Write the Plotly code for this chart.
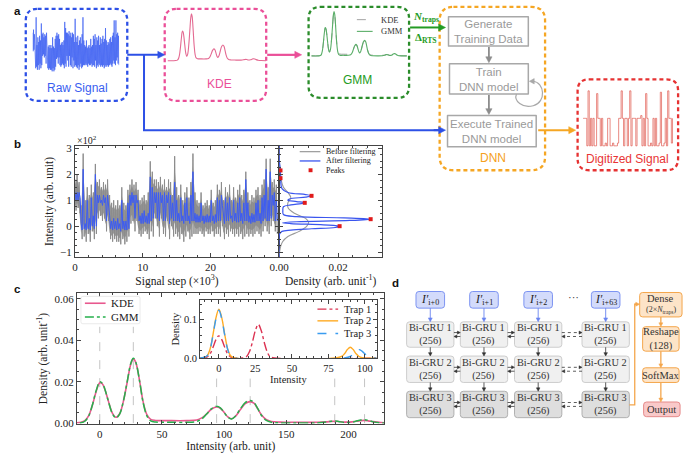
import re
import math
import numpy as np
import plotly.graph_objects as go

W, H = 685, 453
SERIF = "Liberation Serif"
SANS = "Liberation Sans"

# ---------------- data ----------------
# panel b: envelopes of raw (before filtering) and filtered signal, sampled every 0.3 x10^3 steps
step_size = 0.3
gray_hi = [
    1.8, 2.0, 1.7, 0.8, 2.8, 1.0, 1.5, 1.2, 1.6, 1.3,
    2.4, 1.7, 1.8, 1.5, 1.7, 1.6, 1.8, 1.2, 0.9, 1.0,
    0.8, 1.0, 0.8, 1.5, 0.9, 0.8, 1.4, 1.6, 1.8, 1.6,
    1.7, 1.4, 1.0, 1.1, 1.2, 1.0, 1.3, 2.5, 2.1, 1.8,
    1.8, 1.7, 1.9, 1.6, 1.8, 1.5, 1.8, 1.7, 1.2, 2.7,
    1.5, 1.2, 1.6, 1.0, 1.3, 1.5, 1.1, 1.7, 2.8, 1.3,
    1.0, 0.9, 1.3, 0.8, 0.9, 1.0, 0.8, 1.4, 0.9, 1.0,
    1.6, 1.4, 1.7, 1.0, 1.5, 1.3, 1.6, 1.0, 1.5, 1.1,
    1.4, 1.6, 1.2, 1.4, 2.1, 1.3, 1.0, 1.2, 1.1, 1.4,
    1.5, 1.2, 1.6, 1.8, 2.6, 1.5, 2.6, 1.7, 1.8, 1.6]
gray_lo = [
    0.6, 0.7, 0.5, -0.5, -0.4, -0.6, -0.3, -0.6, -0.2, -0.5,
    -0.3, 0.3, 0.4, 0.2, 0.3, -0.2, 0.2, -0.5, -0.6, -0.5,
    -0.6, -0.6, -0.7, -0.5, -0.7, -0.6, -0.4, 0.1, 0.2, -0.2,
    0.2, -0.3, -0.4, -0.3, -0.2, -0.3, -0.5, -0.2, -0.4, 0.3,
    0.0, -0.4, 0.3, -0.3, -0.4, 0.2, -0.5, 0.0, -0.4, -0.3,
    -0.4, -0.5, -0.3, -0.6, -0.4, -0.2, -0.5, -0.4, -0.3, -0.3,
    -0.3, -0.2, -0.3, -0.4, -0.2, -0.3, -0.3, -0.2, -0.4, -0.3,
    -0.3, -0.4, 0.0, -0.5, -0.3, -0.4, -0.2, -0.3, -0.4, -0.3,
    -0.4, -0.3, -0.5, -0.4, -0.3, -0.4, -0.3, -0.4, -0.3, -0.2,
    -0.3, -0.4, -0.2, 0.0, -0.2, -0.3, 0.0, 0.2, -0.2, -0.3]
blue_hi = [
    1.3, 1.3, 1.3, 0.1, 2.2, 0.1, 1.0, 0.3, 1.1, 0.4,
    2.0, 1.2, 1.2, 1.0, 1.2, 1.1, 1.2, 0.4, 0.2, 0.3,
    0.2, 0.3, 0.1, 1.0, 0.2, 0.2, 0.9, 1.2, 1.3, 1.2,
    1.2, 1.0, 0.4, 0.5, 0.6, 0.4, 0.5, 1.9, 1.5, 1.3,
    1.3, 1.3, 1.3, 1.2, 1.3, 1.2, 1.3, 1.2, 0.9, 1.7,
    1.0, 0.5, 1.1, 0.4, 0.9, 1.1, 0.4, 1.2, 2.1, 0.5,
    0.45, 0.4, 0.9, 0.4, 0.4, 0.45, 0.4, 1.0, 0.4, 0.45,
    1.1, 1.0, 1.2, 0.4, 1.1, 0.9, 1.1, 0.4, 1.0, 0.5,
    0.9, 1.1, 0.5, 0.9, 1.8, 0.9, 0.4, 0.5, 0.45, 0.9,
    1.0, 0.5, 1.1, 1.2, 2.2, 1.0, 2.1, 1.2, 1.3, 1.0]
blue_lo = [
    1.0, 1.0, 1.1, -0.15, -0.1, -0.15, -0.1, -0.15, 0.0, -0.1,
    0.0, 0.9, 0.9, 0.8, 0.9, 0.2, 0.9, -0.1, -0.15, -0.1,
    -0.15, -0.1, -0.2, -0.1, -0.15, -0.15, -0.1, 0.8, 0.9, 0.3,
    0.9, 0.2, 0.1, 0.1, 0.15, 0.1, 0.1, 0.2, 0.3, 0.9,
    0.3, 0.2, 0.9, 0.2, 0.2, 0.9, 0.1, 0.3, 0.2, 0.2,
    0.2, 0.15, 0.2, 0.1, 0.2, 0.2, 0.1, 0.2, 0.2, 0.15,
    0.15, 0.15, 0.2, 0.1, 0.15, 0.15, 0.15, 0.2, 0.1, 0.15,
    0.2, 0.2, 0.8, 0.1, 0.2, 0.2, 0.3, 0.15, 0.2, 0.15,
    0.15, 0.2, 0.1, 0.2, 0.2, 0.15, 0.1, 0.15, 0.15, 0.2,
    0.2, 0.1, 0.2, 0.3, 0.2, 0.2, 0.3, 0.8, 0.2, 0.2]

# panel b: densities of intensity (x10^2)
before_int = [-1.2, -1.0, -0.8, -0.6, -0.4, -0.2, 0.0, 0.15, 0.3, 0.5, 0.7, 0.9, 1.1, 1.3, 1.5, 1.8, 2.2, 2.6, 3.1]
before_den = [0.0, 0.0002, 0.0005, 0.0012, 0.0030, 0.0068, 0.0094, 0.0100, 0.0090, 0.0052, 0.0031, 0.0030, 0.0040, 0.0030, 0.0015, 0.0007, 0.0003, 0.0001, 0.0]
after_int = [-1.2, -0.5, -0.3, -0.2, -0.15, -0.1, -0.05, 0.0, 0.05, 0.1, 0.13, 0.17, 0.22, 0.27, 0.32, 0.37, 0.45,
             0.6, 0.75, 0.82, 0.87, 0.9, 0.95, 1.0, 1.05, 1.12, 1.17, 1.22, 1.3, 1.45, 1.7, 1.85, 2.0, 2.15, 2.5, 3.1]
after_den = [0.0, 0.0, 0.0002, 0.0010, 0.0040, 0.0110, 0.0190, 0.0205, 0.0150, 0.0040, 0.0012, 0.0060, 0.0240, 0.0310,
             0.0220, 0.0060, 0.0015, 0.0013, 0.0015, 0.0040, 0.0075, 0.0087, 0.0060, 0.0030, 0.0035, 0.0090, 0.0110,
             0.0090, 0.0030, 0.0010, 0.0006, 0.0007, 0.0005, 0.0005, 0.0001, 0.0]
peak_int = [0.0, 0.27, 0.9, 1.17, 1.85, 2.15]
peak_den = [0.0205, 0.0310, 0.0087, 0.0110, 0.0005, 0.0005]

# panel c: KDE and GMM densities
c_intensity = [-45, -20, -15, -12, -9, -6, -3, 0, 2, 4, 7, 10, 13, 16, 19, 22, 25, 27, 29, 32, 35, 38, 41, 45, 55,
               70, 78, 82, 86, 90, 94, 97, 100, 103, 106, 109, 113, 117, 121, 124, 127, 130, 134, 138, 145, 160,
               175, 182, 186, 189, 192, 197, 203, 207, 210, 213, 216, 220, 226, 235, 250]
kde_density = [0.0, 0.0001, 0.0004, 0.0012, 0.0035, 0.0085, 0.0150, 0.0195, 0.0190, 0.0165, 0.0105, 0.0050, 0.0028,
               0.0045, 0.0105, 0.0195, 0.0285, 0.0310, 0.0292, 0.0205, 0.0100, 0.0040, 0.0018, 0.0013, 0.0012,
               0.0012, 0.0015, 0.0025, 0.0045, 0.0068, 0.0078, 0.0072, 0.0052, 0.0030, 0.0021, 0.0032, 0.0064,
               0.0094, 0.0104, 0.0096, 0.0070, 0.0040, 0.0016, 0.0008, 0.0005, 0.0004, 0.0004, 0.0006, 0.0008,
               0.0009, 0.0008, 0.0005, 0.0006, 0.0009, 0.0012, 0.0013, 0.0011, 0.0007, 0.0003, 0.0001, 0.0]
gmm_density = [0.0, 0.0, 0.0002, 0.0009, 0.0033, 0.0086, 0.0155, 0.0199, 0.0193, 0.0166, 0.0104, 0.0048, 0.0026,
               0.0044, 0.0106, 0.0198, 0.0289, 0.0313, 0.0294, 0.0204, 0.0096, 0.0034, 0.0011, 0.0005, 0.0004,
               0.0004, 0.0008, 0.0020, 0.0044, 0.0070, 0.0081, 0.0074, 0.0052, 0.0029, 0.0020, 0.0033, 0.0068,
               0.0099, 0.0109, 0.0100, 0.0071, 0.0038, 0.0013, 0.0004, 0.0001, 0.0, 0.0001, 0.0005, 0.0009,
               0.0010, 0.0008, 0.0003, 0.0004, 0.0011, 0.0015, 0.0016, 0.0013, 0.0006, 0.0001, 0.0, 0.0]
c_peaks = [0, 27, 94, 121, 189, 213]

# panel c inset: per-trap densities
trap1_x = [-13, -8, -6, -4, -2, 0, 2, 4, 6, 8, 10, 16, 19, 21, 23, 25, 27, 29, 31, 33, 35, 38, 108]
trap1_y = [0, 0.003, 0.011, 0.028, 0.048, 0.058, 0.048, 0.028, 0.011, 0.003, 0.0005, 0, 0.004, 0.017, 0.042,
           0.072, 0.088, 0.072, 0.042, 0.017, 0.004, 0, 0]
trap2_x = [-13, -8, -6, -4, -2, 0, 2, 4, 6, 8, 11, 80, 84, 86, 88, 90, 92, 94, 96, 99, 108]
trap2_y = [0, 0.006, 0.024, 0.062, 0.105, 0.128, 0.105, 0.062, 0.024, 0.006, 0, 0, 0.004, 0.011, 0.022, 0.028,
           0.022, 0.011, 0.004, 0, 0]
trap3_x = [-13, -8, -6, -4, -2, 0, 2, 4, 6, 8, 11, 86, 90, 92, 94, 96, 98, 100, 102, 105, 108]
trap3_y = [0, 0.006, 0.023, 0.060, 0.102, 0.125, 0.102, 0.060, 0.023, 0.006, 0, 0, 0.004, 0.011, 0.018, 0.022,
           0.018, 0.011, 0.004, 0, 0]

# panel a: digitized output levels
digitized = [1, 1, 1, 0, 2.0, 0, 1, 0, 1, 0, 0, 1.9, 1, 1, 0, 1, 0, 0, 0.1, 0, 1, 1, 0, 0, 0.1, 0, 0, 0, 0.1, 1,
             1, 2.0, 1, 0, 1, 1, 0, 1, 2.0, 0, 1, 1, 1, 0, 1, 1, 1, 1.1, 0, 1, 0, 1.9, 1, 0, 0, 0.1, 0, 1, 0, 1,
             0, 0, 0.1, 1.95, 0, 0, 0.1, 1, 0, 2.0, 1, 1, 0.1, 1]

# tick labels
b_xticks = [0, 10, 20]
b_yticks = [-1, 0, 1, 2, 3]
bd_xticks = [0.0, 0.02]
c_xticks = [0, 50, 100, 150, 200]
c_yticks = [0.0, 0.02, 0.04, 0.06]
ins_xticks = [0, 25, 50, 75, 100]
ins_yticks = [0.0, 0.1]

# ---------------- helpers ----------------
ann, shp = [], []


def pxpath(s):
    toks = re.findall(r"[A-Za-z]|-?\d+\.?\d*", s)
    out, nums = [], []
    for t in toks:
        if t.isalpha():
            out.append(t)
        else:
            nums.append(float(t))
            if len(nums) == 2:
                out.append(f"{nums[0] / W:.5f},{1 - nums[1] / H:.5f}")
                nums = []
    return " ".join(out)


def rbox(x0, y0, x1, y1, r, color, width=1.0, dash="solid", fill="rgba(0,0,0,0)", layer="below"):
    p = (f"M {x0 + r} {y0} L {x1 - r} {y0} Q {x1} {y0} {x1} {y0 + r} L {x1} {y1 - r} Q {x1} {y1} {x1 - r} {y1} "
         f"L {x0 + r} {y1} Q {x0} {y1} {x0} {y1 - r} L {x0} {y0 + r} Q {x0} {y0} {x0 + r} {y0} Z")
    shp.append(dict(type="path", path=pxpath(p), xref="paper", yref="paper", layer=layer,
                    line=dict(color=color, width=width, dash=dash), fillcolor=fill))


def poly(pts, color, width=1.0, dash="solid"):
    p = "M " + " L ".join(f"{x} {y}" for x, y in pts)
    shp.append(dict(type="path", path=pxpath(p), xref="paper", yref="paper", layer="above",
                    line=dict(color=color, width=width, dash=dash)))


def head(x0, y0, x1, y1, color, hl=6, hw=3.2):
    d = math.hypot(x1 - x0, y1 - y0)
    ux, uy = (x1 - x0) / d, (y1 - y0) / d
    bx, by = x1 - ux * hl, y1 - uy * hl
    p = (f"M {x1} {y1} L {bx - uy * hw} {by + ux * hw} L {bx + uy * hw} {by - ux * hw} Z")
    shp.append(dict(type="path", path=pxpath(p), xref="paper", yref="paper", layer="above",
                    line=dict(color=color, width=0.5), fillcolor=color))
    return bx, by


def arr(x0, y0, x1, y1, color, w=1.5, hl=6, hw=3.2, dash="solid"):
    bx, by = head(x0, y0, x1, y1, color, hl, hw)
    poly([(x0, y0), (bx + (x1 - bx) * 0.3, by + (y1 - by) * 0.3)], color, w, dash)


def txt(x, y, s, size=11, color="#222", family=SERIF, xa="center", ya="middle", angle=0):
    ann.append(dict(x=x / W, y=1 - y / H, xref="paper", yref="paper", text=s, showarrow=False,
                    font=dict(size=size, color=color, family=family), xanchor=xa, yanchor=ya, textangle=angle))


def zig(hi, lo, dx):
    xs, ys = [], []
    for i, (a, b) in enumerate(zip(hi, lo)):
        xs += [i * dx, i * dx + dx / 2]
        ys += [a, b]
    return xs, ys


def band(hi, lo, dx, shrink):
    # polygon around the dense core of the noisy band
    n = len(hi)
    xs = [i * dx for i in range(n)] + [i * dx for i in range(n - 1, -1, -1)]
    core_hi = [a - (a - b) * shrink for a, b in zip(hi, lo)]
    core_lo = [b + (a - b) * shrink for a, b in zip(hi, lo)]
    ys = core_hi + core_lo[::-1]
    return xs, ys


def dom_x(a, b):
    return [a / W, b / W]


def dom_y(top, bottom):
    return [1 - bottom / H, 1 - top / H]


AX = "#444"


def sci(**kw):
    d = dict(showline=True, linecolor=AX, linewidth=1, mirror="allticks", ticks="inside", ticklen=4,
             tickcolor=AX, showgrid=False, zeroline=False,
             tickfont=dict(family=SERIF, size=11, color="#222"))
    d.update(kw)
    return d


def hidden(**kw):
    d = dict(visible=False, showgrid=False, zeroline=False)
    d.update(kw)
    return d


fig = go.Figure()

# ---------------- panel b ----------------
gx, gy = zig(gray_hi, gray_lo, step_size)
bx, by = zig(blue_hi, blue_lo, step_size)
fx, fy = band(gray_hi, gray_lo, step_size, 0.15)
fig.add_trace(go.Scatter(x=fx, y=fy, mode="lines", fill="toself", fillcolor="rgba(140,140,140,0.85)",
                         line=dict(width=0), xaxis="x", yaxis="y", showlegend=False, hoverinfo="skip"))
fig.add_trace(go.Scatter(x=gx, y=gy, mode="lines", line=dict(color="#8c8c8c", width=1), xaxis="x", yaxis="y",
                         showlegend=False, hoverinfo="skip"))
fig.add_trace(go.Scatter(x=bx, y=by, mode="lines", line=dict(color="#3d5cf2", width=1), xaxis="x", yaxis="y",
                         showlegend=False, hoverinfo="skip"))
fig.add_trace(go.Scatter(x=before_den, y=before_int, mode="lines", line=dict(color="#9a9a9a", width=1.1, shape="spline"),
                         xaxis="x2", yaxis="y2", showlegend=False))
fig.add_trace(go.Scatter(x=after_den, y=after_int, mode="lines", line=dict(color="#3a55ee", width=1.2, shape="spline"),
                         xaxis="x2", yaxis="y2", showlegend=False))
fig.add_trace(go.Scatter(x=peak_den, y=peak_int, mode="markers", marker=dict(color="#e01b1b", size=4, symbol="square"),
                         xaxis="x2", yaxis="y2", showlegend=False, cliponaxis=False))

# ---------------- panel c ----------------
fig.add_trace(go.Scatter(x=c_intensity, y=kde_density, mode="lines", line=dict(color="#e8588e", width=1.6, shape="spline"),
                         xaxis="x3", yaxis="y3", showlegend=False))
fig.add_trace(go.Scatter(x=c_intensity, y=gmm_density, mode="lines",
                         line=dict(color="#26b04c", width=1.5, dash="dashdot", shape="spline"),
                         xaxis="x3", yaxis="y3", showlegend=False))
for i, p in enumerate(c_peaks):
    top = 0.0465 if i < 2 else 0.0215
    shp.append(dict(type="line", xref="x3", yref="y3", x0=p, x1=p, y0=0, y1=top, layer="below",
                    line=dict(color="#b5b5b5", width=0.8, dash="dash")))

fig.add_trace(go.Scatter(x=trap1_x, y=trap1_y, mode="lines", line=dict(color="#dc3352", width=1.4, dash="dashdot", shape="spline"),
                         xaxis="x4", yaxis="y4", showlegend=False))
fig.add_trace(go.Scatter(x=trap2_x, y=trap2_y, mode="lines", line=dict(color="#ffab24", width=1.4, shape="spline"),
                         xaxis="x4", yaxis="y4", showlegend=False))
fig.add_trace(go.Scatter(x=trap3_x, y=trap3_y, mode="lines", line=dict(color="#3a9cf0", width=1.4, dash="dash", shape="spline"),
                         xaxis="x4", yaxis="y4", showlegend=False))

# ---------------- panel a mini plots ----------------
fig.add_trace(go.Scatter(x=gx, y=gy, mode="lines", line=dict(color="#3f62f2", width=0.7), xaxis="x5", yaxis="y5",
                         showlegend=False, hoverinfo="skip"))
fig.add_trace(go.Scatter(x=c_intensity, y=kde_density, mode="lines", line=dict(color="#e46a92", width=1.1, shape="spline"),
                         xaxis="x6", yaxis="y6", showlegend=False))
fig.add_trace(go.Scatter(x=c_intensity, y=kde_density, mode="lines",
                         line=dict(color="#9a9a9a", width=0.9, dash="dash", shape="spline"),
                         xaxis="x7", yaxis="y7", showlegend=False))
fig.add_trace(go.Scatter(x=c_intensity, y=gmm_density, mode="lines", line=dict(color="#5aae68", width=1.1, shape="spline"),
                         xaxis="x7", yaxis="y7", showlegend=False))
fig.add_trace(go.Scatter(x=list(range(len(digitized))), y=digitized, mode="lines",
                         line=dict(color="rgba(222,80,70,0.75)", width=0.9, shape="hv"),
                         xaxis="x8", yaxis="y8", showlegend=False))

# ---------------- layout axes ----------------
fig.update_layout(
    xaxis=sci(domain=dom_x(66, 273), range=[0, 30.1], anchor="y", tickvals=b_xticks,
              minor=dict(ticks="inside", ticklen=2, dtick=2, tickcolor=AX),
              title=dict(text="Signal step (×10<sup>3</sup>)", font=dict(family=SERIF, size=11.5), standoff=2)),
    yaxis=sci(domain=dom_y(145, 259), range=[-1.2, 3.1], anchor="x", tickvals=b_yticks,
              minor=dict(ticks="inside", ticklen=2, dtick=0.25, tickcolor=AX),
              title=dict(text="Intensity (arb. unit)", font=dict(family=SERIF, size=11.5), standoff=4)),
    xaxis2=sci(domain=dom_x(273, 378), range=[0, 0.035], anchor="y2", tickvals=bd_xticks, tickformat=".2f",
               minor=dict(ticks="inside", ticklen=2, dtick=0.005, tickcolor=AX),
               title=dict(text="Density (arb. unit<sup>-1</sup>)", font=dict(family=SERIF, size=11.5), standoff=2)),
    yaxis2=sci(domain=dom_y(145, 259), range=[-1.2, 3.1], anchor="x2", tickvals=b_yticks, showticklabels=False,
               minor=dict(ticks="inside", ticklen=2, dtick=0.25, tickcolor=AX)),
    xaxis3=sci(domain=dom_x(68, 380), range=[-18.3, 229], anchor="y3", tickvals=c_xticks,
               minor=dict(ticks="inside", ticklen=2, dtick=10, tickcolor=AX),
               title=dict(text="Intensity (arb. unit)", font=dict(family=SERIF, size=11.5), standoff=2)),
    yaxis3=sci(domain=dom_y(296, 429), range=[-0.0002, 0.0626], anchor="x3", tickvals=c_yticks, tickformat=".2f",
               minor=dict(ticks="inside", ticklen=2, dtick=0.005, tickcolor=AX),
               title=dict(text="Density (arb. unit<sup>-1</sup>)", font=dict(family=SERIF, size=11.5), standoff=4)),
    xaxis4=sci(domain=dom_x(193, 372), range=[-12.8, 108], anchor="y4", tickvals=ins_xticks,
               tickfont=dict(family=SERIF, size=10.5, color="#222"),
               minor=dict(ticks="inside", ticklen=2, dtick=5, tickcolor=AX),
               title=dict(text="Intensity", font=dict(family=SERIF, size=10.5), standoff=0)),
    yaxis4=sci(domain=dom_y(303, 362), range=[0, 0.151], anchor="x4", tickvals=ins_yticks, tickformat=".1f",
               tickfont=dict(family=SERIF, size=10.5, color="#222"),
               minor=dict(ticks="inside", ticklen=2, dtick=0.02, tickcolor=AX),
               title=dict(text="Density", font=dict(family=SERIF, size=10.5), standoff=2)),
    xaxis5=hidden(domain=dom_x(23, 111), range=[0, 30], anchor="y5"),
    yaxis5=hidden(domain=dom_y(12, 72), range=[-0.9, 2.9], anchor="x5"),
    xaxis6=hidden(domain=dom_x(160, 260), range=[-44, 250], anchor="y6"),
    yaxis6=hidden(domain=dom_y(5, 62), range=[-0.0026, 0.0342], anchor="x6"),
    xaxis7=hidden(domain=dom_x(306, 403), range=[-42, 251], anchor="y7"),
    yaxis7=hidden(domain=dom_y(4, 58), range=[-0.0034, 0.0338], anchor="x7"),
    xaxis8=hidden(domain=dom_x(581, 673), range=[-0.5, len(digitized) - 0.5], anchor="y8"),
    yaxis8=hidden(domain=dom_y(86, 147), range=[-0.07, 2.1], anchor="x8"),
)

# ---------------- panel labels ----------------
for lab, x, y in [("a", 8, 7), ("b", 8, 143), ("c", 8, 291), ("d", 391, 285)]:
    txt(x, y, f"<b>{lab}</b>", size=11.5, color="#111", family=SANS)

# ---------------- panel a diagram ----------------
DASH = "4px,3px"
rbox(16, 5, 119, 99, 12, "#2d50e6", 2.3, DASH)
rbox(157, 5, 260, 99, 12, "#ea4f98", 2.3, DASH)
rbox(303, 3, 405, 96, 12, "#2a8c2a", 2.3, DASH)
rbox(436, 3, 543, 170, 14, "#f5a623", 2.3, DASH)
rbox(576, 77, 678, 170, 12, "#e63232", 2.3, DASH)
txt(68, 86, "Raw Signal", 12, "#3a5ef0", SANS)
txt(213, 82, "KDE", 12, "#ea4f98", SANS)
txt(353, 78, "GMM", 12, "#239b23", SANS)
txt(490, 157, "DNN", 12, "#f5a020", SANS)
txt(627, 158, "Digitized Signal", 12, "#e83535", SANS)

# GMM mini legend
poly([(352, 16), (368, 16)], "#9a9a9a", 0.9, "dash")
poly([(352, 28), (368, 28)], "#5aae68", 1.1)
txt(374, 16, "KDE", 8.5, "#333", SERIF, xa="left")
txt(374, 28, "GMM", 8.5, "#333", SERIF, xa="left")

# DNN boxes
GRAY = "#a8a8a8"
rbox(445, 13, 526, 43, 0.1, GRAY, 1.5)
rbox(446, 61, 526, 92, 0.1, GRAY, 1.5)
rbox(444, 114, 534, 146, 0.1, GRAY, 1.5)
txt(486, 28, "Generate<br>Training Data", 11.5, "#9a9a9a", SANS)
txt(486, 77, "Train<br>DNN model", 11.5, "#9a9a9a", SANS)
txt(489, 130, "Execute Trained<br>DNN model", 11.5, "#9a9a9a", SANS)
arr(486, 44, 486, 60, "#8d8d8d", 1.8, 6, 3.2)
arr(486, 93, 486, 113, "#8d8d8d", 1.8, 6, 3.2)
shp.append(dict(type="path", path=pxpath("M 531 79 C 542 80 545 100 531 104 C 520 107 511 99 514 92"),
                xref="paper", yref="paper", layer="above", line=dict(color="#a8a8a8", width=1.2)))
head(533, 79, 527, 79, "#a8a8a8", 5, 2.8)

# flow arrows
arr(119, 52, 157, 52, "#2d50e6", 2, 7, 3.6)
poly([(136, 52), (136, 129), (436, 129)], "#2d50e6", 2)
arr(430, 129, 442, 129, "#2d50e6", 2, 7, 3.6)
arr(261, 52, 296, 52, "#ea4f98", 2.2, 7, 3.6)
arr(406, 24, 442, 24, "#239b23", 2, 7, 3.6)
txt(422, 13, "<b><i>N</i></b><sub><b>traps</b></sub>", 11, "#239b23", SERIF)
txt(422, 35, "<b>Δ</b><sub><b>RTS</b></sub>", 11, "#239b23", SERIF)
arr(536, 129, 574, 129, "#f5a623", 2, 7, 3.6)

# ---------------- panel b annotations ----------------
txt(78, 139, "×10<sup>2</sup>", 10, "#222", SERIF)
poly([(294, 151), (315, 151)], "#9a9a9a", 1.2)
poly([(294, 160.5), (315, 160.5)], "#3a55ee", 1.3)
shp.append(dict(type="rect", xref="paper", yref="paper", x0=303 / W, x1=307 / W, y0=1 - 172 / H, y1=1 - 168 / H,
                fillcolor="#e01b1b", line=dict(width=0), layer="above"))
txt(319, 151, "Before filtering", 8, "#222", SERIF, xa="left")
txt(319, 160.5, "After filtering", 8, "#222", SERIF, xa="left")
txt(319, 170, "Peaks", 8, "#222", SERIF, xa="left")

# ---------------- panel c legends ----------------
rbox(72, 299, 132, 327, 2, "#e4e4e4", 0.8, fill="rgba(255,255,255,0.9)", layer="above")
poly([(76, 306), (97, 306)], "#e8588e", 1.6)
poly([(76, 320), (97, 320)], "#26b04c", 1.5, "dashdot")
txt(100, 306, "KDE", 11, "#222", SERIF, xa="left")
txt(100, 320, "GMM", 11, "#222", SERIF, xa="left")
poly([(312, 312), (333, 312)], "#dc3352", 1.4, "dashdot")
poly([(312, 324), (333, 324)], "#ffab24", 1.4)
poly([(312, 337), (333, 337)], "#3a9cf0", 1.4, "dash")
txt(337, 312, "Trap 1", 10.5, "#222", SERIF, xa="left")
txt(337, 324, "Trap 2", 10.5, "#222", SERIF, xa="left")
txt(337, 337, "Trap 3", 10.5, "#222", SERIF, xa="left")

# ---------------- panel d ----------------
cols = [426.5, 481, 536, 604.5]
rows = [(325, 351), (360, 387), (396, 423)]
inputs = ["<i>I′</i><sub>i+0</sub>", "<i>I′</i><sub>i+1</sub>", "<i>I′</i><sub>i+2</sub>", "<i>I′</i><sub>i+63</sub>"]
for c, lab in zip(cols, inputs):
    rbox(c - 14.5, 294, c + 14.5, 311, 3, "#7d94f2", 1, fill="#d3dbfb")
    txt(c, 302.5, lab, 11.5, "#222", SERIF)
    arr(c, 311, c, 325, "#6a84f0", 0.9, 4, 2)
for r, (y0, y1) in enumerate(rows):
    fill = "#dedede" if r == 2 else "#f0f0f0"
    edge = "#b0b0b0" if r == 2 else "#cdcdcd"
    for c in cols:
        rbox(c - 24, y0, c + 24, y1, 3, edge, 1, fill=fill)
        txt(c, (y0 + y1) / 2, f"Bi-GRU {r + 1}<br>(256)", 10.3, "#333", SERIF)
        if r < 2:
            arr(c, y1, c, rows[r + 1][0], "#333", 0.8, 3.5, 1.8)
    ym = (y0 + y1) / 2
    for a, b in [(cols[0] + 24, cols[1] - 24), (cols[1] + 24, cols[2] - 24)]:
        arr(a, ym - 2, b, ym - 2, "#333", 0.8, 3, 1.6)
        arr(b, ym + 2, a, ym + 2, "#333", 0.8, 3, 1.6)
    a, b = cols[2] + 24, cols[3] - 24
    arr(a, ym - 2, b, ym - 2, "#333", 0.8, 3, 1.6, "dot")
    arr(b, ym + 2, a, ym + 2, "#333", 0.8, 3, 1.6, "dot")
txt(572, 300, "···", 11, "#333", SERIF)

OR = "#f4a64c"
rbox(639, 295, 682, 320, 3, OR, 1, fill="#fde4c8")
txt(660.5, 301, "Dense", 10.5, "#333", SERIF)
txt(660.5, 313, "(2×<i>N</i><sub>traps</sub>)", 8, "#333", SERIF)
rbox(642, 330, 679, 355, 3, OR, 1, fill="#fde4c8")
txt(660.5, 342.5, "Reshape<br>(128)", 10.5, "#333", SERIF)
rbox(642, 372, 679, 387, 3, OR, 1, fill="#fde4c8")
txt(660.5, 379.5, "SoftMax", 10.5, "#333", SERIF)
rbox(643, 407, 680, 422, 3, "#e58a8a", 1, fill="#f9c9c9")
txt(661.5, 414.5, "Output", 10.5, "#333", SERIF)
poly([(628.5, 410), (634, 410), (634, 307), (636, 307)], OR, 1.3)
arr(634, 307, 639, 307, OR, 1.3, 4, 2)
arr(660.5, 320, 660.5, 330, OR, 1.3, 4, 2)
arr(660.5, 355, 660.5, 372, OR, 1.3, 4, 2)
arr(660.5, 387, 660.5, 407, OR, 1.3, 4, 2)

fig.update_layout(width=W, height=H, margin=dict(l=0, r=0, t=0, b=0), paper_bgcolor="white",
                  plot_bgcolor="rgba(0,0,0,0)", showlegend=False, annotations=ann, shapes=shp,
                  font=dict(family=SERIF, color="#222"))

fig.write_html("out.html", config={"displayModeBar": False},
               post_script="document.body.style.margin='0';document.body.style.padding='0';"
                           "document.body.style.overflow='hidden';")
